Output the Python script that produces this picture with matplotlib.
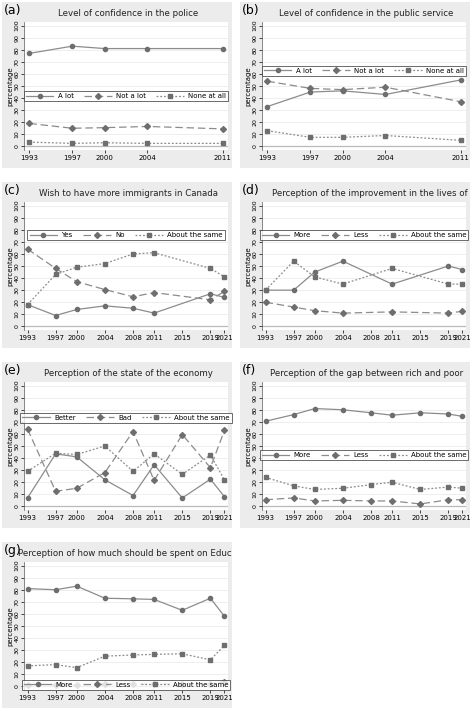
import matplotlib
matplotlib.use("Agg")
import matplotlib.pyplot as plt

yrs_a = [1993, 1997, 2000, 2004, 2011]
a_alot = [77, 83, 81, 81, 81]
a_notalot = [19, 15, 15.5, 16.5, 14.5]
a_none = [3.5, 2.5, 3, 2.5, 2.5]
b_alot = [33, 45, 46, 43, 55]
b_notalot = [54, 48, 47, 49, 37]
b_none = [13, 7.5, 7.5, 9, 5]
yrs_c = [1993, 1997, 2000, 2004, 2008, 2011, 2019, 2021]
c_yes = [18, 9, 14, 17, 15, 11, 27, 24]
c_no = [64, 48, 37, 30.5, 24.5, 28, 22, 29]
c_same = [18, 43, 49, 52, 60, 61, 48, 41]
yrs_d = [1993, 1997, 2000, 2004, 2011, 2019, 2021]
d_more = [30, 30, 45, 54, 35, 50, 47]
d_less = [20, 16, 13, 11, 12, 11, 12.5]
d_same = [30, 54, 41, 35, 48, 35, 35]
yrs_e = [1993, 1997, 2000, 2004, 2008, 2011, 2015, 2019, 2021]
e_better = [7, 43.5, 41, 22, 9, 34.5, 7, 22.5, 8]
e_bad = [64, 12.5, 15, 28, 62, 21.5, 59.5, 32, 63]
e_same = [29, 44, 43, 50, 29, 43.5, 26.5, 42.5, 22]
f_more = [70.5, 76, 81, 80, 77.5, 75.5, 77.5, 76.5, 74.5]
f_less = [5.5, 7, 4.5, 5, 4.5, 4.5, 2, 5.5, 5.5]
f_same = [24, 17, 14, 15, 18, 20, 14, 16, 15]
g_more = [81, 80, 83, 73, 72.5, 72, 63, 73, 58]
g_less = [1.5, 1.5, 1, 2, 2, 2, 2, 2, 4]
g_same = [17, 18, 15.5, 25, 26, 26.5, 27, 22, 34]
ticks_full = [1993, 1997, 2000, 2004, 2008, 2011, 2015, 2019, 2021]

panels = [
    ("(a)", "Level of confidence in the police", yrs_a, [a_alot, a_notalot, a_none],
     ["A lot", "Not a lot", "None at all"], yrs_a, 0.42),
    ("(b)", "Level of confidence in the public service", yrs_a, [b_alot, b_notalot, b_none],
     ["A lot", "Not a lot", "None at all"], yrs_a, 0.62),
    ("(c)", "Wish to have more immigrants in Canada", yrs_c, [c_yes, c_no, c_same],
     ["Yes", "No", "About the same"], ticks_full, 0.74),
    ("(d)", "Perception of the improvement in the lives of racial minorities", yrs_d, [d_more, d_less, d_same],
     ["More", "Less", "About the same"], ticks_full, 0.74),
    ("(e)", "Perception of the state of the economy", yrs_e, [e_better, e_bad, e_same],
     ["Better", "Bad", "About the same"], ticks_full, 0.72),
    ("(f)", "Perception of the gap between rich and poor", yrs_e, [f_more, f_less, f_same],
     ["More", "Less", "About the same"], ticks_full, 0.43),
    ("(g)", "Perception of how much should be spent on Education", yrs_e, [g_more, g_less, g_same],
     ["More", "Less", "About the same"], ticks_full, 0.04),
]

W, H = 474, 711
fig = plt.figure(figsize=(4.74, 7.11), dpi=100)
styles = [("-", "o"), ((0, (6, 3)), "D"), ((0, (1.5, 1.5)), "s")]
lcol = "#8c8c8c"
mcol = "#6e6e6e"

for i, (lab, title, x, series, names, ticks, legy) in enumerate(panels):
    col = i % 2
    row = i // 2
    px = 2 + col * 238
    py = 2 + row * 180
    pw, ph = 230, 166
    bg = fig.add_axes([px / W, 1 - (py + ph) / H, pw / W, ph / H], zorder=0)
    bg.set_facecolor("#ececec")
    bg.set_xticks([]); bg.set_yticks([])
    for sp in bg.spines.values():
        sp.set_visible(False)
    bg.text(2 / pw, 1 - 2 / ph, lab, transform=bg.transAxes, fontsize=9, va="top", ha="left")
    # title placed in panel, clipped to panel
    t = bg.text(0.55 if i != 3 else 0.04, 1 - 12 / ph, title, transform=bg.transAxes,
                fontsize=6.2, va="center", ha="center" if i != 3 else "left",
                color="#222222", clip_on=True)
    if i == 6:
        t.set_x(0.58)
    if i == 3:
        t.set_x(0.14)
    ax = fig.add_axes([(px + 22) / W, 1 - (py + 148) / H, 204 / W, 128 / H], zorder=1)
    ax.set_facecolor("white")
    for (ls, mk), s, n in zip(styles, series, names):
        ax.plot(x, s, linestyle=ls, marker=mk, color=lcol, markerfacecolor=mcol,
                markeredgecolor=mcol, markersize=3, linewidth=0.9, label=n)
    ax.set_ylim(-3, 103)
    ax.set_xlim(ticks[0] - 0.5, ticks[-1] + 0.5)
    ax.set_yticks(range(0, 101, 10))
    ax.set_xticks(ticks)
    ax.tick_params(axis="y", labelsize=4.5, labelrotation=90, length=2, width=0.5, pad=1)
    ax.tick_params(axis="x", labelsize=5, length=2, width=0.5, pad=1.5)
    for tl in ax.get_yticklabels():
        tl.set_va("center")
    ax.grid(axis="y", color="#e8e8e8", linewidth=0.5)
    ax.axhline(0, color="#555555", linewidth=0.8, zorder=1)
    for sp in ["top", "right", "bottom"]:
        ax.spines[sp].set_visible(False)
    ax.spines["left"].set_linewidth(0.5)
    ax.spines["left"].set_color("#555555")
    ax.set_ylabel("percentage", fontsize=5, labelpad=1)
    leg = ax.legend(loc="center", bbox_to_anchor=(0.5, legy), ncol=3, fontsize=5,
                    frameon=True, fancybox=False, handlelength=4, columnspacing=1.5,
                    borderpad=0.3, handletextpad=0.6)
    leg.get_frame().set_edgecolor("#444444")
    leg.get_frame().set_linewidth(0.7)

fig.savefig("out.png", dpi=100)
